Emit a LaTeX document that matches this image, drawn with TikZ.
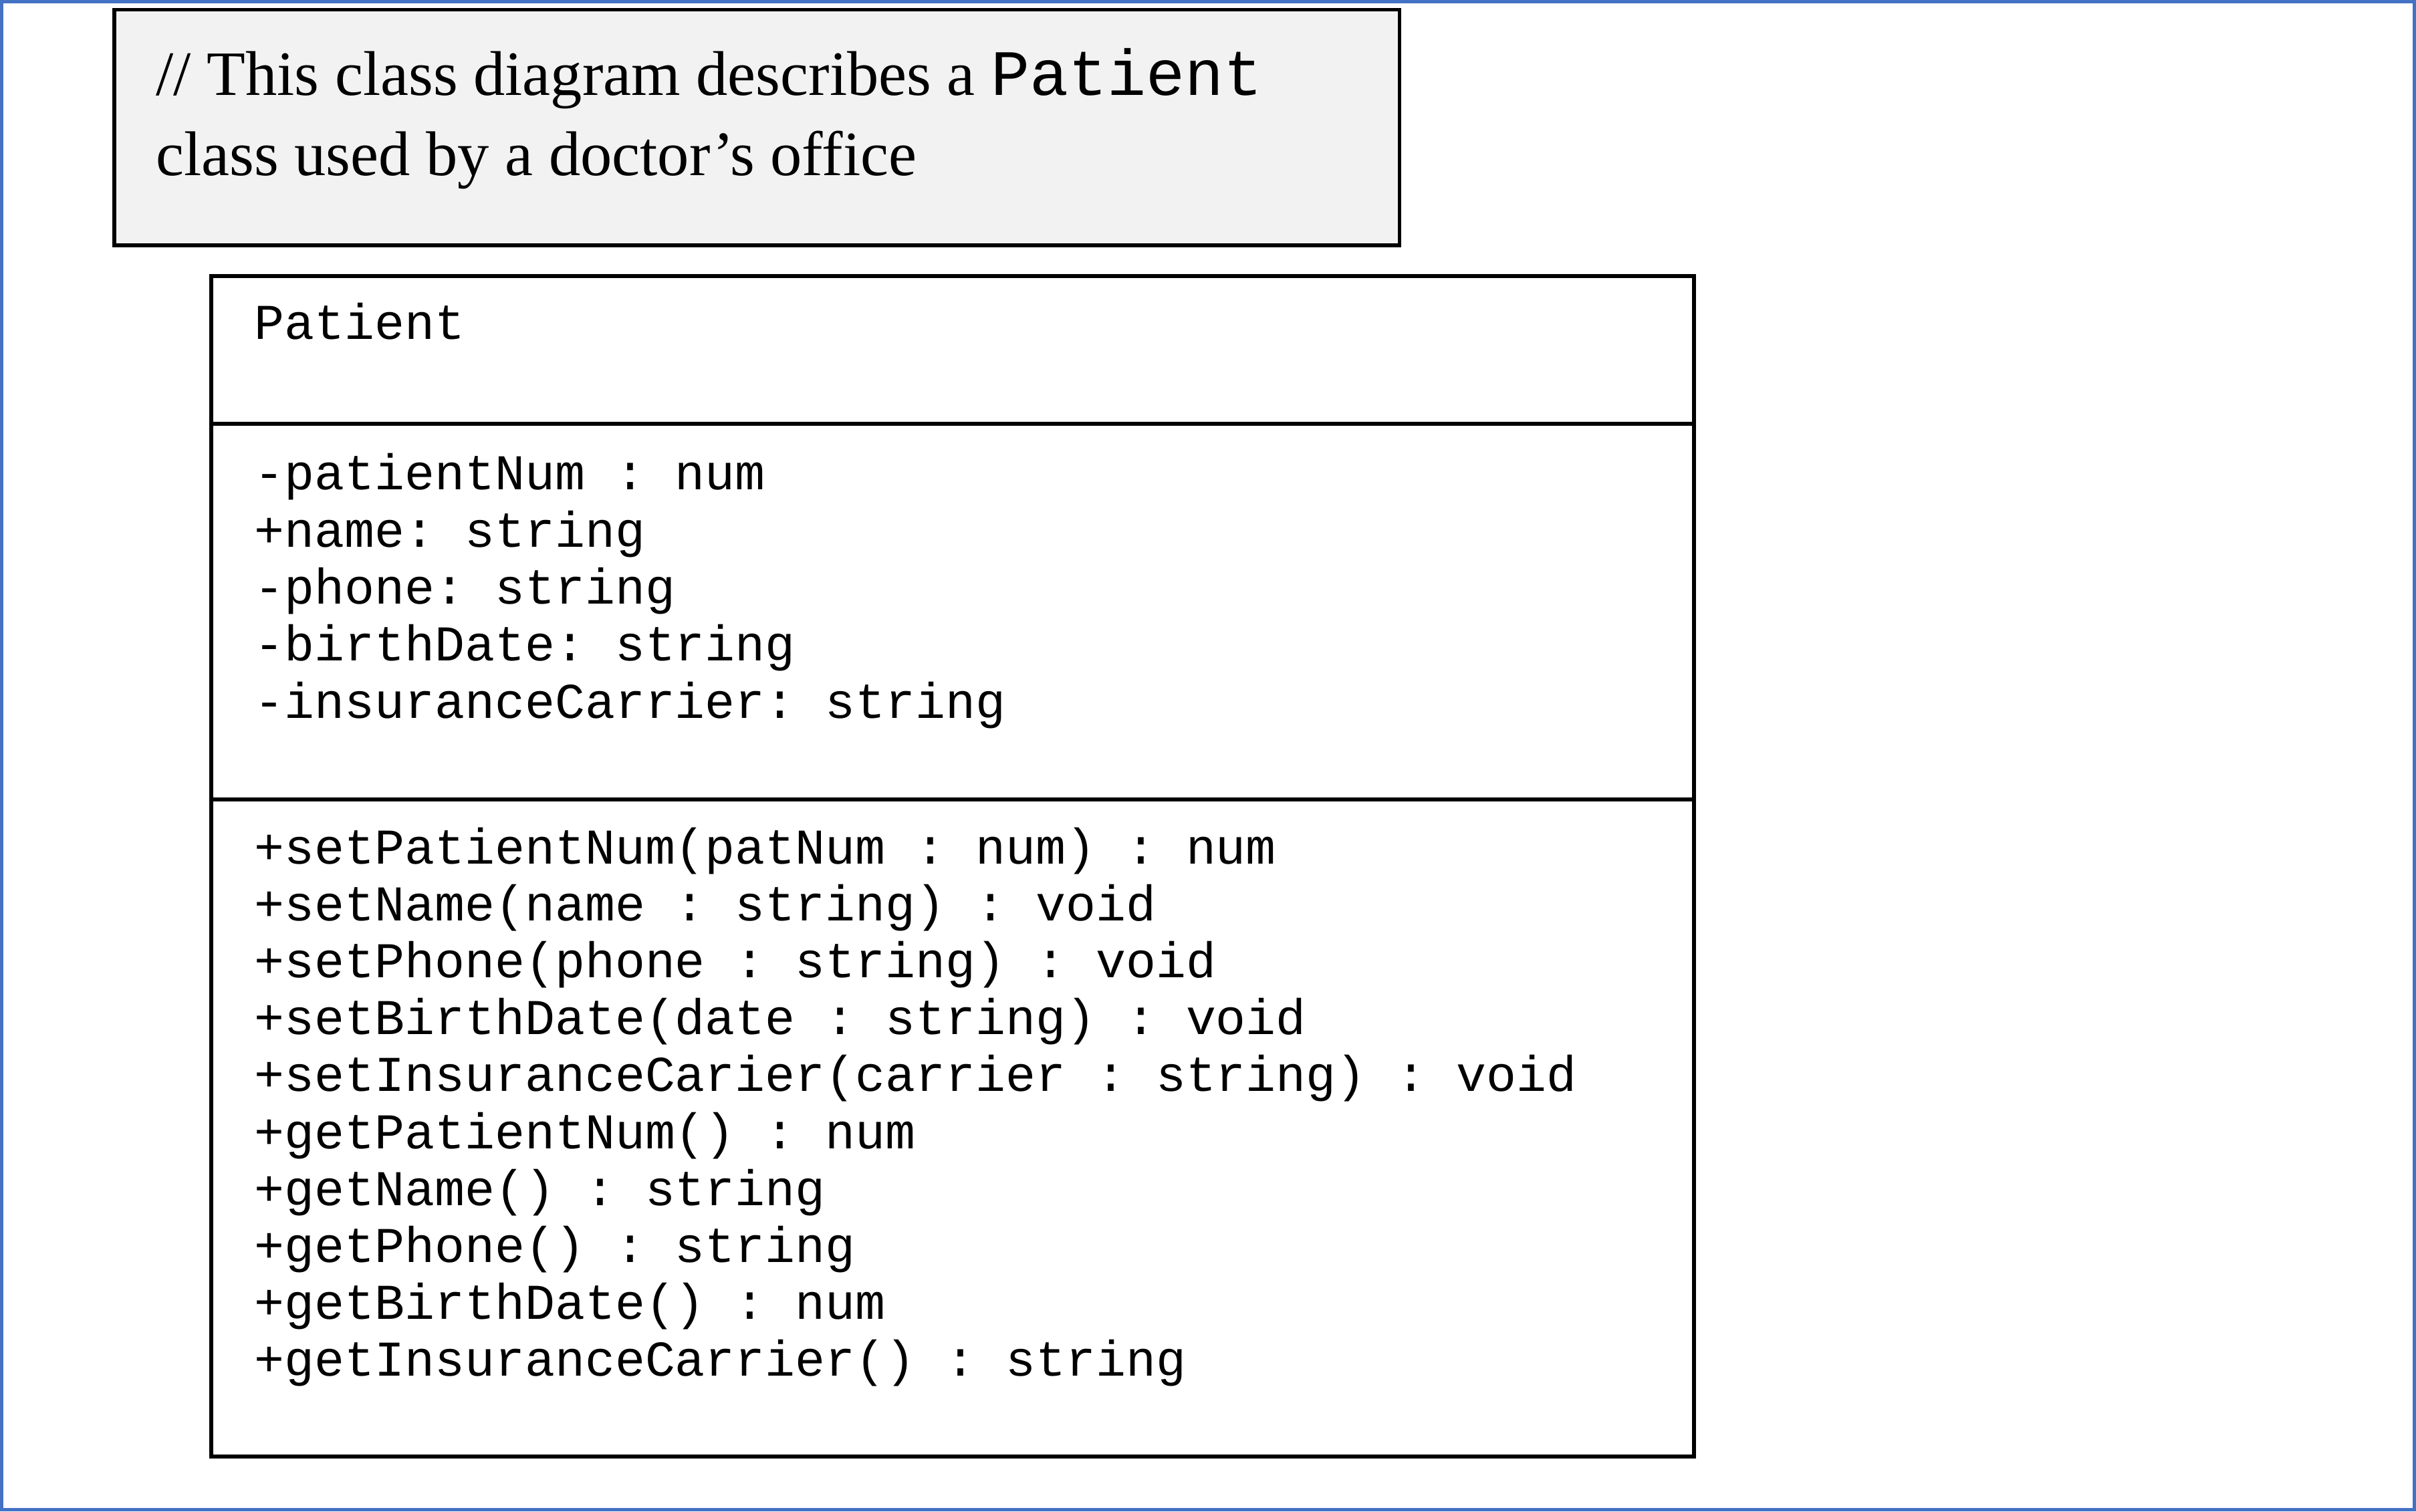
\documentclass[tikz,border=0pt]{standalone}
\usepackage{fontspec}
\setmainfont{Liberation Serif}
\setmonofont{Liberation Mono}
\begin{document}
\begin{tikzpicture}[x=1pt,y=-1pt,
  mono/.style={anchor=base west,inner sep=0pt,font=\ttfamily\fontsize{32.5}{37}\selectfont},
  ser/.style={anchor=base west,inner sep=0pt,font=\fontsize{41}{52}\selectfont}]
\useasboundingbox (0,0) rectangle (1568,981);
\draw[color={rgb,255:red,68;green,114;blue,196},line width=2] (1,1) rectangle (1567,980) ;
\node[draw,line width=2.5,fill={rgb,255:red,242;green,242;blue,242},minimum width=834,minimum height=153,anchor=north west,inner sep=0pt] (note) at (73,5) {};
\node[ser] (n1) at (101,62) {// This class diagram describes a {\ttfamily\fontsize{42}{52}\selectfont Patient}};
\node[ser] (n2) at (101,114) {class used by a doctor’s office};
\node[draw,line width=2.5,minimum width=962,minimum height=766,anchor=north west,inner sep=0pt] (cls) at (136,178) {};
\draw[line width=2.5] (136,275) -- (1098,275);
\draw[line width=2.5] (136,519) -- (1098,519);
\node[mono] (t) at (165,220) {Patient};
\foreach \s [count=\i] in {-patientNum : num,+name: string,-phone: string,-birthDate: string,-insuranceCarrier: string}
  \node[mono] (a\i) at (165,281+37*\i) {\s};
\foreach \s [count=\i] in {+setPatientNum(patNum : num) : num,+setName(name : string) : void,+setPhone(phone : string) : void,+setBirthDate(date : string) : void,+setInsuranceCarier(carrier : string) : void,+getPatientNum() : num,+getName() : string,+getPhone() : string,+getBirthDate() : num,+getInsuranceCarrier() : string}
  \node[mono] (m\i) at (165,524+36.9*\i) {\s};
\end{tikzpicture}
\end{document}
